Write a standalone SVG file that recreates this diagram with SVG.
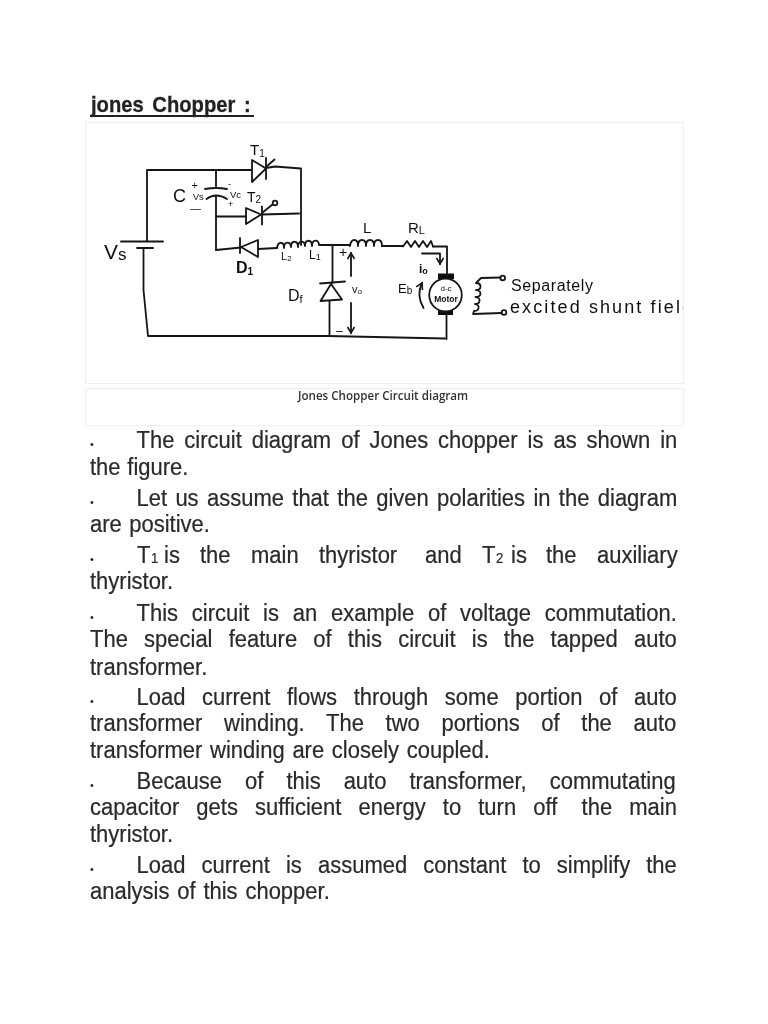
<svg xmlns="http://www.w3.org/2000/svg" width="768" height="1024" viewBox="0 0 768 1024">
<style>
text{font-family:"Liberation Sans",Arial,sans-serif;fill:#222}
.b{font-size:22px;fill:#2a2a2a;stroke:#2a2a2a;stroke-width:.2}
.dot{font-size:11px;fill:#222}
.sub{font-size:13px}
.h{font-size:20.2px;font-weight:bold;fill:#222;stroke:#222;stroke-width:.25}
.cap{font-family:"Open Sans","Noto Sans",sans-serif;font-size:11.6px;font-weight:600;fill:#333}
.w{fill:none;stroke:#141414;stroke-width:1.8;stroke-linecap:round;stroke-linejoin:round}
.f{fill:#fff;stroke:#141414;stroke-width:1.8;stroke-linejoin:round}
.k{fill:#111}
.hw{fill:#111}
.fr{fill:none;stroke:#efefef;stroke-width:1}
</style>
<defs>
<marker id="ah" markerUnits="userSpaceOnUse" markerWidth="10" markerHeight="10" refX="7" refY="4" orient="auto"><path d="M1 0.5L7 4L1 7.5" fill="none" stroke="#141414" stroke-width="1.6"/></marker>
<clipPath id="edge"><rect x="480" y="260" width="203" height="70"/></clipPath>
<filter id="soft" x="0" y="0" width="1" height="1" filterUnits="objectBoundingBox"><feGaussianBlur stdDeviation="0.35"/></filter>
</defs>
<rect width="768" height="1024" fill="#fff"/>
<g filter="url(#soft)">
<rect x="0" y="0" width="768" height="1024" fill="#fff"/>
<g id="heading">
<text class="h" transform="translate(91 111.700) scale(1 1.100)" word-spacing="3">jones Chopper :</text>
<path d="M90 116H254" stroke="#222" stroke-width="2"/>
</g>
<g id="frame">
<rect class="fr" x="85.500" y="122.500" width="598" height="261"/>
<rect class="fr" x="85.500" y="388.500" width="598" height="37"/>
</g>
<g id="connectors">
<path class="w" d="M147 170H252M147 170V241"/>
<path class="w" d="M143.500 248V290L148 336L328 336L445 338.500"/>
<path class="w" d="M266 168L275 166.500L301 168.500V245"/>
<path class="w" d="M216 170V188M216 196V250"/>
<path class="w" d="M216 216.500H246M262 214.500L299 213.500"/>
<path class="w" d="M216 250L241 247.500M258 249L277 248"/>
<path class="w" d="M322 245H350M382 246H403M433 246.500H447V275M446.500 315V339"/>
<path class="w" d="M332.500 245V283M329.500 300V336"/>
<path class="w" marker-end="url(#ah)" d="M351 276V253"/>
<path class="w" marker-end="url(#ah)" d="M351 303V333"/>
<path class="w" marker-end="url(#ah)" d="M422 253.500H440V264"/>
<path class="w" marker-end="url(#ah)" d="M423.500 308Q416 295 422 283"/>
</g>
<g id="battery">
<path class="w" d="M121 241.500H163M137 248H153"/>
<text class="hw" x="104" y="259" font-size="21">V<tspan font-size="17" dy="1">s</tspan></text>
</g>
<g id="T1">
<path class="f" d="M252 160V182L266 168.500Z"/>
<path class="w" d="M266 158V179M266 167L274.500 159.500"/>
<text class="hw" x="250" y="155" font-size="15">T<tspan font-size="10" dy="2">1</tspan></text>
</g>
<g id="C">
<path class="w" d="M205 189Q216 187 227 189M206.500 199Q216 192 227 199"/>
<text class="hw" x="173" y="202" font-size="18">C</text>
<text class="hw" x="191.500" y="189" font-size="11">+</text>
<text class="hw" x="193" y="200" font-size="9">Vs</text>
<text class="hw" x="190" y="212" font-size="11">—</text>
<text class="hw" x="228" y="187" font-size="9">-</text>
<text class="hw" x="230" y="198" font-size="9.500">Vc</text>
<text class="hw" x="228" y="207" font-size="9">+</text>
</g>
<g id="T2">
<path class="f" d="M246 208V224L261 214.500Z"/>
<path class="w" d="M262 206.500V224.500M262 213L272.500 204.500"/>
<circle class="f" cx="275" cy="203" r="2.300"/>
<text class="hw" x="247" y="202" font-size="14">T<tspan font-size="10" dy="1">2</tspan></text>
</g>
<g id="D1">
<path class="f" d="M241 247L258 240V257Z"/>
<path class="w" d="M240 238V253"/>
<text class="hw" x="236" y="273" font-size="16" font-weight="bold">D<tspan font-size="10" dy="2">1</tspan></text>
</g>
<g id="autotransformer">
<path class="w" d="M277 248C278 241 284 241 284 248C284 241 291 241 291 247C291 240 298 240 298 247C298 240 305 240 305 246C305 239 312 239 312 246C312 239 319 239 319 245L322 245"/>
<text class="hw" x="281" y="260" font-size="11">L<tspan font-size="8" dy="1">2</tspan></text>
<text class="hw" x="309" y="259" font-size="12">L<tspan font-size="9" dy="1">1</tspan></text>
</g>
<g id="L">
<path class="w" d="M350 246C351 238 358 238 358 246C358 238 366 238 366 246C366 238 374 238 374 246C374 238 382 238 382 246"/>
<text class="hw" x="363" y="233" font-size="15">L</text>
</g>
<g id="RL">
<path class="w" d="M403 246.500L407 241L411 247L415 241L419 247L423 241L427 247L431 241L433 246.500"/>
<text class="hw" x="408" y="233" font-size="15">R<tspan font-size="11" dy="1">L</tspan></text>
</g>
<g id="Df">
<path class="f" d="M331 284L320.500 301L342 299.500Z"/>
<path class="w" d="M320 283.500L345 281.500"/>
<text class="hw" x="288" y="301" font-size="16">D<tspan font-size="11" dy="2">f</tspan></text>
<text class="hw" x="339" y="257" font-size="14">+</text>
<text class="hw" x="352" y="293" font-size="11">v<tspan font-size="8" dy="1">o</tspan></text>
<text class="hw" x="336" y="335" font-size="12">–</text>
</g>
<g id="motor">
<rect class="k" x="438" y="273.500" width="16" height="5.500"/>
<rect class="k" x="438" y="309" width="15" height="6"/>
<circle class="f" cx="445.500" cy="295" r="16.300"/>
<text class="hw" x="446" y="291" font-size="8" text-anchor="middle">d-c</text>
<text class="hw" x="446" y="302" font-size="8.500" text-anchor="middle" font-weight="bold">Motor</text>
<text class="hw" x="419" y="273" font-size="12" font-weight="bold">i<tspan font-size="9" dy="1">o</tspan></text>
<text class="hw" x="398" y="293" font-size="13">E<tspan font-size="10" dy="1">b</tspan></text>
</g>
<g id="field">
<circle class="f" cx="502.700" cy="278" r="2.300"/>
<circle class="f" cx="504" cy="312.500" r="2.300"/>
<path class="w" d="M500.500 277.500L481 278L476 283C482 283 482 290 476 290C482 290 482 297 475.500 297C481 297 481 304 475 304C480 304 480 311 474 311L473 314L501.500 313"/>
<g clip-path="url(#edge)">
<text class="hw" x="511" y="291" font-size="16" textLength="82">Separately</text>
<text class="hw" x="510" y="313" font-size="18" textLength="182">excited shunt field</text>
</g>
</g>
<text class="cap" x="298" y="400">Jones Chopper Circuit diagram</text>
<g id="body" transform="translate(0 0.500) scale(1 1.060)">
<text class="dot" x="90" y="422.640">•</text>
<text class="b" x="136.500" y="422.640" word-spacing="3.870">The circuit diagram of Jones chopper is as shown in</text>
<text class="b" x="90" y="447.640" word-spacing="0.600">the figure.</text>
<text class="dot" x="90" y="477.360">•</text>
<text class="b" x="136.500" y="477.360" word-spacing="2.230">Let us assume that the given polarities in the diagram</text>
<text class="b" x="90" y="501.890" word-spacing="1.400">are positive.</text>
<text class="dot" x="90" y="531.130">•</text>
<text class="b" y="531.130"><tspan x="137">T</tspan><tspan class="sub" x="151">1</tspan><tspan x="164">is</tspan><tspan x="200">the</tspan><tspan x="251">main</tspan><tspan x="319">thyristor</tspan><tspan x="425">and</tspan><tspan x="482">T</tspan><tspan class="sub" x="496">2</tspan><tspan x="511">is</tspan><tspan x="546">the</tspan><tspan x="597">auxiliary</tspan></text>
<text class="b" x="90" y="555.660">thyristor.</text>
<text class="dot" x="90" y="585.850">•</text>
<text class="b" x="136.500" y="585.850" word-spacing="7.700">This circuit is an example of voltage commutation.</text>
<text class="b" x="90" y="610.380" word-spacing="10.060">The special feature of this circuit is the tapped auto</text>
<text class="b" x="90" y="635.850">transformer.</text>
<text class="dot" x="90" y="665.090">•</text>
<text class="b" x="136.500" y="665.090" word-spacing="10.480">Load current flows through some portion of auto</text>
<text class="b" x="90" y="689.620" word-spacing="15.550">transformer winding. The two portions of the auto</text>
<text class="b" x="90" y="715.090" word-spacing="1.600">transformer winding are closely coupled.</text>
<text class="dot" x="90" y="744.340">•</text>
<text class="b" x="136.500" y="744.340" word-spacing="16.900">Because of this auto transformer, commutating</text>
<text class="b" x="90" y="768.870" word-spacing="11">capacitor gets sufficient energy to turn off<tspan x="581.600">the main</tspan></text>
<text class="b" x="90" y="794.340">thyristor.</text>
<text class="dot" x="90" y="823.580">•</text>
<text class="b" x="136.500" y="823.580" word-spacing="9.970">Load current is assumed constant to simplify the</text>
<text class="b" x="90" y="848.110" word-spacing="1.700">analysis of this chopper.</text>
</g>
</g>
</svg>
